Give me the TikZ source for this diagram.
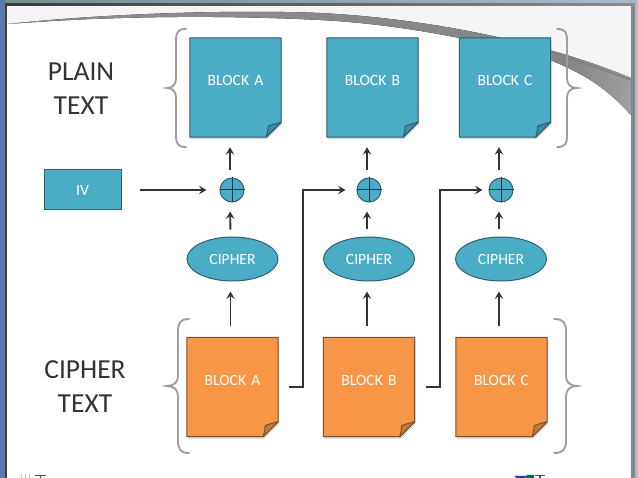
\documentclass[tikz,border=0pt]{standalone}
\usepackage{fontspec}
\setmainfont{Carlito}
\usetikzlibrary{arrows.meta,shapes.geometric,calc}
\pgfdeclarelayer{bg}
\pgfsetlayers{bg,main}
\definecolor{bluefill}{HTML}{4BACC6}
\definecolor{blueedge}{HTML}{2F5F72}
\definecolor{bluefold}{HTML}{3A8AA3}
\definecolor{orangefill}{HTML}{F79646}
\definecolor{orangeedge}{HTML}{7A5230}
\definecolor{orangefold}{HTML}{C67A38}
\definecolor{ink}{HTML}{333333}
\definecolor{paletint}{HTML}{F5F5F7}
\pgfdeclarehorizontalshading{swoosh}{100bp}{
  color(0bp)=(black!42);
  color(70bp)=(black!48);
  color(86bp)=(black!14);
  color(93bp)=(black!25);
  color(100bp)=(black!52)}
\tikzset{
  smalltext/.style={font=\fontsize{15.6}{18}\selectfont,text=white},
  bigtext/.style={font=\fontsize{27.5}{32}\selectfont,text=ink,inner sep=0pt},
  docbox/.style={smalltext,inner sep=0pt,text width=91pt,align=center,text height=48pt,text depth=51pt},
  cipherbox/.style={smalltext,ellipse,draw=blueedge,fill=bluefill,line width=1pt,minimum width=91pt,minimum height=44pt,inner sep=0pt},
  ivbox/.style={smalltext,draw=blueedge,fill=bluefill,line width=1pt,minimum width=77pt,minimum height=40pt,inner sep=0pt},
  xorbox/.style={circle,draw=blueedge,fill=bluefill,line width=1pt,minimum size=24pt,inner sep=0pt},
  xorline/.style={draw=ink,line width=1pt},
  flow/.style={draw=ink,line width=1.9pt,-{Stealth[length=7.5pt,width=8.5pt,inset=3pt]}},
  bracket/.style={draw=black!38,line width=1.9pt,line cap=round},
}
% #1 name, #2 centre, #3 label, #4 fill, #5 edge, #6 fold
\newcommand{\docblock}[6]{%
  \node[docbox] (#1) at #2 {#3};
  \begin{pgfonlayer}{bg}
    \fill[black!35,opacity=.45] ([shift={(1pt,-2pt)}]#1.north west) -- ([shift={(1pt,-2pt)}]#1.north east)
      -- ([shift={(1pt,13pt)}]#1.south east) -- ([shift={(-14pt,-2pt)}]#1.south east)
      -- ([shift={(1pt,-2pt)}]#1.south west) -- cycle;
    \draw[fill=#4,draw=#5,line width=1pt,line join=round] (#1.north west) -- (#1.north east)
      -- ([yshift=15pt]#1.south east) -- ([xshift=-15pt]#1.south east) -- (#1.south west) -- cycle;
    \draw[fill=#6,draw=#5,line width=1pt,line join=round] ([yshift=15pt]#1.south east)
      .. controls ([shift={(-6pt,13.5pt)}]#1.south east) and ([shift={(-11pt,12pt)}]#1.south east) .. ([shift={(-13pt,11pt)}]#1.south east)
      .. controls ([shift={(-13pt,8pt)}]#1.south east) and ([shift={(-14pt,4pt)}]#1.south east) .. ([xshift=-15pt]#1.south east) -- cycle;
  \end{pgfonlayer}}
% #1 name, #2 centre
\newcommand{\xorgate}[2]{%
  \node[xorbox] (#1) at #2 {};
  \draw[xorline] (#1.north) -- (#1.south);
  \draw[xorline] (#1.west) -- (#1.east);}
\begin{document}
\begin{tikzpicture}[x=1pt,y=-1pt]
\useasboundingbox (0,0) rectangle (638,478);
\begin{pgfonlayer}{bg}
  \fill[white] (0,0) rectangle (638,478);
  % pale area above the swoosh
  \fill[paletint] (7,6) -- (631,6) -- (631,80) .. controls (540,40) and (420,18) .. (320,13)
     .. controls (250,10) and (120,12) .. (8,24) -- cycle;
  % swoosh
  \fill[shading=swoosh] (8,24) .. controls (120,12) and (250,10) .. (320,13)
     .. controls (420,18) and (540,40) .. (631,78) -- (631,115)
     .. controls (610,92) and (590,76) .. (550,60)
     .. controls (490,42) and (400,24) .. (320,20)
     .. controls (220,15) and (110,16) .. (8,24) -- cycle;
  \draw[black!50,line width=1.6pt] (550,52) .. controls (580,62) and (605,70) .. (631,80);
  % frame
  \fill[left color=black!78,right color=black!45] (0,3) rectangle (638,6);
  \fill[left color=cyan!20!black!55,right color=cyan!50!blue!45!black!35] (0,0) rectangle (638,3);
  \fill[black!75] (4.5,3) rectangle (7,478);
  \fill[cyan!45!blue!75!black!80] (0,0) rectangle (4.5,478);
  \fill[black!48] (631,6) rectangle (635,478);
  \fill[cyan!50!blue!45!black!35] (635,0) rectangle (638,478);
  % cropped logos at the lower edge
  \draw[black!70,line width=1.2pt] (35,475.6) -- (46,475.6);
  \draw[black!70,line width=1.4pt] (40.5,475.6) -- (40.5,478);
  \draw[blue!30!black!25,line width=.8pt] (21,474) -- (21,478) (25,474) -- (25,478) (29,474) -- (29,478);
  \fill[blue!50!black!80] (514,476) -- (527,476) -- (524,478) -- (517,478) -- cycle;
  \fill[teal!80!black] (527,475) -- (534,475) -- (534,478) -- (525,478) -- cycle;
  \draw[blue!50!black!75,line width=1.2pt] (535,475.6) -- (545,475.6);
  \draw[blue!50!black!75,line width=1.4pt] (540,475.6) -- (540,478);
\end{pgfonlayer}

% braces
\draw[bracket] (186,29) .. controls (178,29) and (176,32) .. (176,41) -- (176,78)
   .. controls (176,84) and (173,88) .. (167,88) .. controls (173,88) and (176,92) .. (176,98)
   -- (176,135) .. controls (176,144) and (178,147) .. (186,147);
\draw[bracket] (557,29) .. controls (565,29) and (567,32) .. (567,41) -- (567,78)
   .. controls (567,84) and (570,88) .. (577,88) .. controls (570,88) and (567,92) .. (567,98)
   -- (567,135) .. controls (567,144) and (565,147) .. (557,147);
\draw[bracket] (189,319) .. controls (180,319) and (178,323) .. (178,332) -- (178,376)
   .. controls (178,382) and (174,386) .. (167,386) .. controls (174,386) and (178,390) .. (178,396)
   -- (178,440) .. controls (178,449) and (180,453) .. (189,453);
\draw[bracket] (554,319) .. controls (564,319) and (566,323) .. (566,332) -- (566,376)
   .. controls (566,382) and (570,386) .. (577,386) .. controls (570,386) and (566,390) .. (566,396)
   -- (566,440) .. controls (566,449) and (564,453) .. (554,453);

% labels
\node[bigtext] (plainA) at (81,72) {PLAIN};
\node[bigtext] (plainB) at (81,106) {TEXT};
\node[bigtext] (cipherA) at (85,370) {CIPHER};
\node[bigtext] (cipherB) at (85,404) {TEXT};

% plain blocks
\docblock{pA}{(235.5,87.5)}{BLOCK A}{bluefill}{blueedge}{bluefold}
\docblock{pB}{(372.5,87.5)}{BLOCK B}{bluefill}{blueedge}{bluefold}
\docblock{pC}{(505,87.5)}{BLOCK C}{bluefill}{blueedge}{bluefold}

% cipher blocks
\docblock{cA}{(232.5,387)}{BLOCK A}{orangefill}{orangeedge}{orangefold}
\docblock{cB}{(369,387)}{BLOCK B}{orangefill}{orangeedge}{orangefold}
\docblock{cC}{(501.5,387)}{BLOCK C}{orangefill}{orangeedge}{orangefold}

% IV, xor gates, ciphers
\node[ivbox] (iv) at (82.5,190) {IV};
\xorgate{xA}{(232,190)}
\xorgate{xB}{(369,190)}
\xorgate{xC}{(501,190)}
\node[cipherbox] (eA) at (232.5,259) {CIPHER};
\node[cipherbox] (eB) at (369,259) {CIPHER};
\node[cipherbox] (eC) at (501,259) {CIPHER};

% connectors
\foreach \n in {A,B,C}{
  \draw[flow,shorten <=7pt,shorten >=10pt] ([xshift=-2pt]x\n.north) -- ([xshift=-2pt]x\n.north |- p\n.south);
  \draw[flow,shorten <=7pt,shorten >=9pt] ([xshift=-2pt]e\n.north) -- ([xshift=-2pt]x\n.south);
  \draw[flow,shorten <=11pt,shorten >=10pt] ([xshift=-2pt]e\n.south |- c\n.north) -- ([xshift=-2pt]e\n.south);
}
\draw[flow,shorten <=18pt,shorten >=13pt] (iv.east) -- (xA.west);
\coordinate (bendB) at (303,387);
\coordinate (bendC) at (440,387);
\draw[flow,shorten <=11pt,shorten >=11pt] (cA.east) -- (bendB) |- (xB.west);
\draw[flow,shorten <=11pt,shorten >=6pt] (cB.east) -- (bendC) |- (xC.west);
\end{tikzpicture}
\end{document}
